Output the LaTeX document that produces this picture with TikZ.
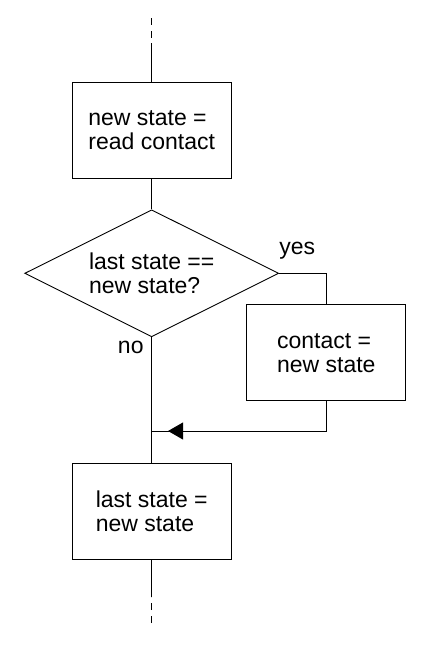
\documentclass[tikz,border=0pt]{standalone}
\usepackage{fontspec}
\setmainfont{Liberation Sans}
\usetikzlibrary{shapes.geometric,arrows.meta,decorations.markings}

\begin{document}
\begin{tikzpicture}[x=1pt,y=-1pt,line width=0.9pt,
    every node/.style={font=\fontsize{23}{24}\selectfont},
    box/.style={draw,minimum width=159pt,minimum height=96pt,align=left,inner sep=0pt},
    decision/.style={draw,diamond,aspect=2,minimum width=254pt,minimum height=127pt,align=left,inner sep=0pt},
    flowlabel/.style={inner sep=0pt},
    midarrow/.style={postaction={decorate},decoration={markings,
        mark=at position 0.92 with {\arrow{Triangle[length=15pt,width=17pt]}}}}]
      \useasboundingbox (0,0) rectangle (424,649);
      \node[box] (read) at (151.7,130.3) {new state =\\read contact};
      \node[decision] (check) at (151.7,273.3) {last state ==\\new state?};
      \node[box] (contact) at (326.3,352.7) {contact =\\new state};
      \node[box] (update) at (151.7,511.5) {last state =\\new state};
      \node[flowlabel,anchor=base west] (yes) at (279,254) {yes};
      \node[flowlabel,anchor=base east] (no) at (144,353) {no};
      \coordinate (intop) at (151.7,18);
      \coordinate (insolid) at (151.7,43);
      \coordinate (join) at (151.7,431);
      \coordinate (outsolid) at (151.7,597);
      \coordinate (outend) at (151.7,623);
      \draw[dash pattern=on 7pt off 6pt] (intop) -- (insolid);
      \draw (insolid) -- (read.north);
      \draw (read.south) -- (check.north);
      \draw (check.east) -| (contact.north);
      \draw[midarrow] (contact.south) |- (join);
      \draw (check.south) -- (update.north);
      \draw (update.south) -- (outsolid);
      \draw[dash pattern=on 7pt off 6pt] (outend) -- (outsolid);
    \end{tikzpicture}
\end{document}
